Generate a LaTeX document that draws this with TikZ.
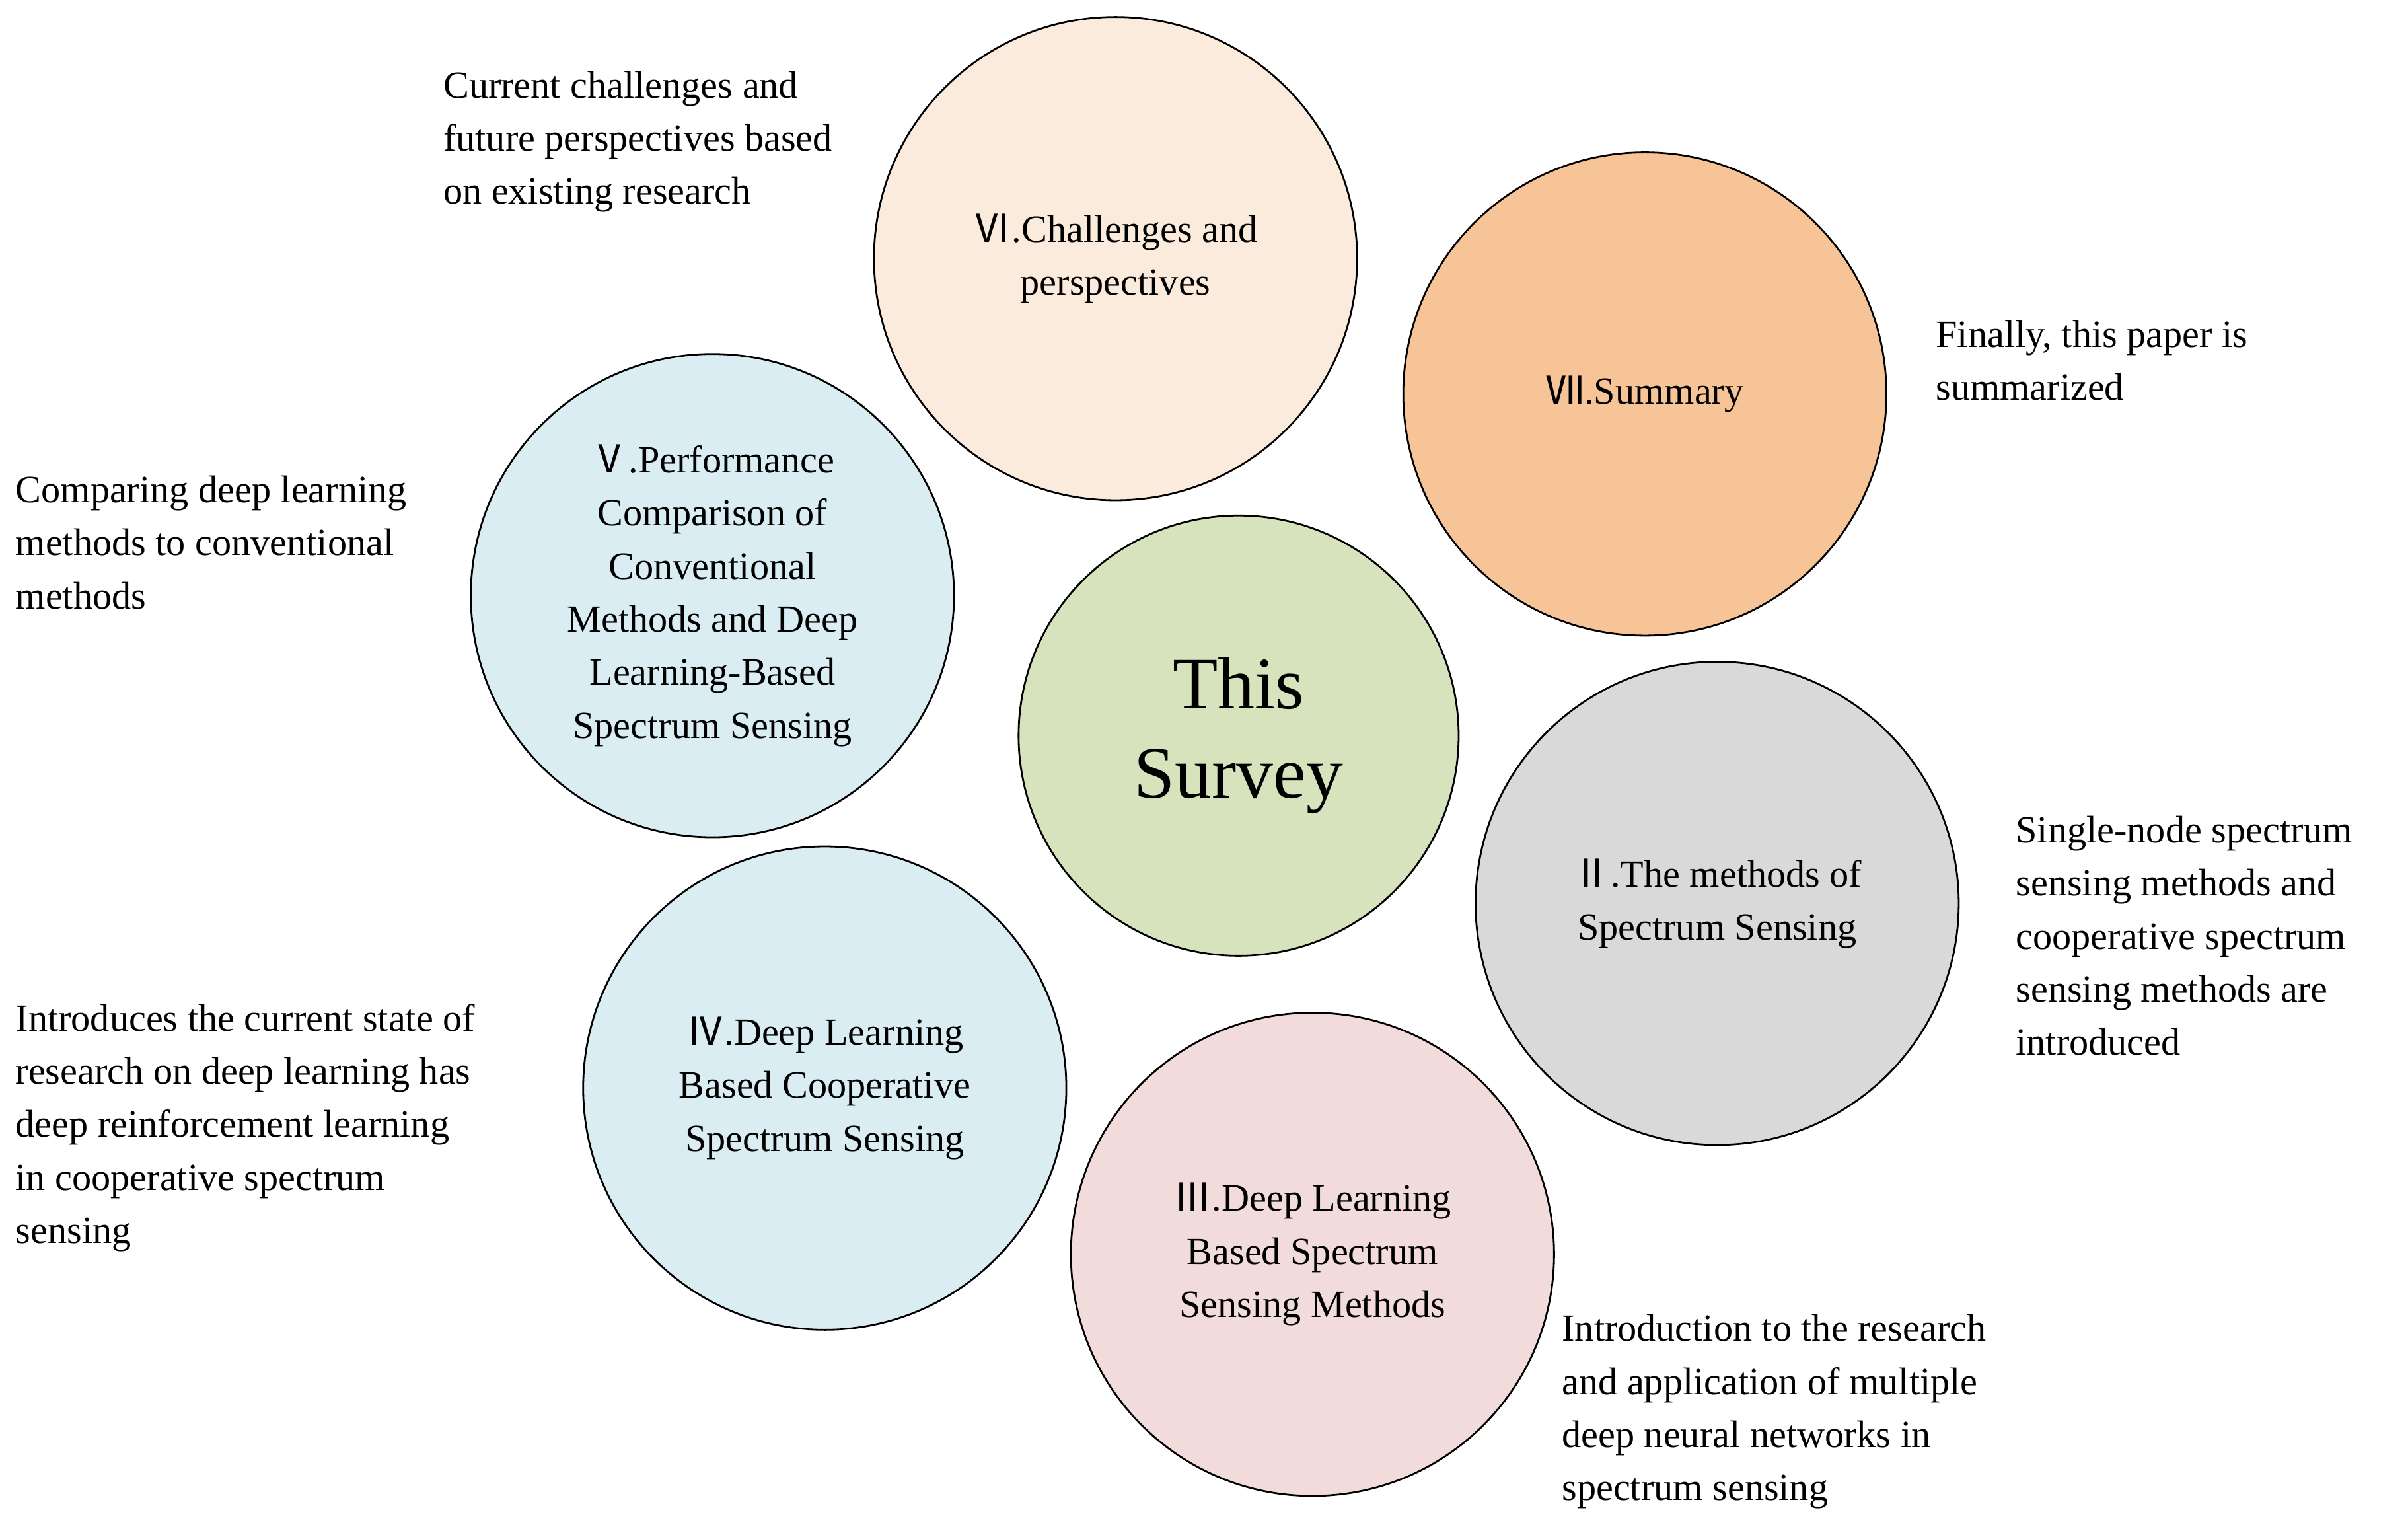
\documentclass[tikz,border=0pt]{standalone}
\usepackage{fontspec}
\setmainfont{Liberation Serif}
\newfontfamily\cjk{Noto Sans CJK SC}
\begin{document}
\begin{tikzpicture}[x=1pt,y=-1pt,
  circ/.style={circle,draw,line width=1.2pt,minimum size=314pt,inner sep=0pt,align=center,font=\fontsize{25}{34.5}\selectfont},
  desc/.style={anchor=north west,align=left,inner sep=0pt,font=\fontsize{25}{34.5}\selectfont}]
\useasboundingbox (0,0) rectangle (1565,997);
\definecolor{cVI}{HTML}{FBEBDC}
\definecolor{cVII}{HTML}{F7C497}
\definecolor{cB}{HTML}{DAEDF3}
\definecolor{cC}{HTML}{D6E3BC}
\definecolor{cII}{HTML}{D9D9D9}
\definecolor{cIII}{HTML}{F2DCDB}
\node[circ,fill=cVI] (vi) at (725,168) {{\cjk Ⅵ}.Challenges and\\perspectives};
\node[circ,fill=cVII] (vii) at (1069,256) {{\cjk Ⅶ}.Summary};
\node[circ,fill=cB] (v) at (463,387) {{\cjk Ⅴ}.Performance\\Comparison of\\Conventional\\Methods and Deep\\Learning-Based\\Spectrum Sensing};
\node[circ,fill=cC,minimum size=286pt,font=\fontsize{48}{58}\selectfont] (c) at (805,478) {This\\Survey};
\node[circ,fill=cII] (ii) at (1116,587) {{\cjk Ⅱ}.The methods of\\Spectrum Sensing};
\node[circ,fill=cB] (iv) at (536,707) {{\cjk Ⅳ}.Deep Learning\\Based Cooperative\\Spectrum Sensing};
\node[circ,fill=cIII] (iii) at (853,815) {{\cjk Ⅲ}.Deep Learning\\Based Spectrum\\Sensing Methods};
\node[desc] (t6) at (288,46) {Current challenges and\\future perspectives based\\on existing research};
\node[desc] (t7) at (1258,208) {Finally, this paper is\\summarized};
\node[desc] (t5) at (10,309) {Comparing deep learning\\methods to conventional\\methods};
\node[desc] (t2) at (1310,530) {Single-node spectrum\\sensing methods and\\cooperative spectrum\\sensing methods are\\introduced};
\node[desc] (t4) at (10,652) {Introduces the current state of\\research on deep learning has\\deep reinforcement learning\\in cooperative spectrum\\sensing};
\node[desc] (t3) at (1015,854) {Introduction to the research\\and application of multiple\\deep neural networks in\\spectrum sensing};
\end{tikzpicture}
\end{document}
